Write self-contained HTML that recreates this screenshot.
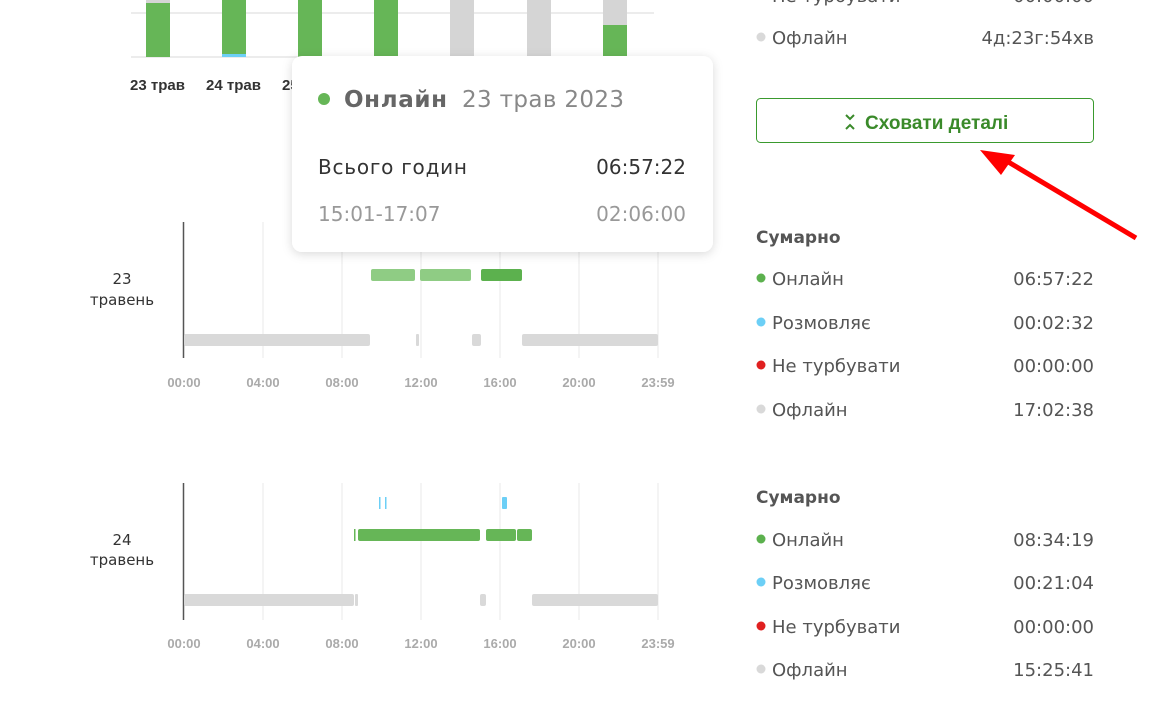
<!DOCTYPE html>
<html><head><meta charset="utf-8"><style>
body{margin:0;background:#fff;width:1162px;height:719px;overflow:hidden;font-family:"Liberation Sans","DejaVu Sans",sans-serif}
</style></head><body>
<svg width="1162" height="719" xmlns="http://www.w3.org/2000/svg" style="position:absolute;left:0;top:0">
<defs><filter id="sh" x="-10%" y="-10%" width="120%" height="130%"><feDropShadow dx="0" dy="2" stdDeviation="5" flood-color="#000" flood-opacity="0.15"/></filter></defs>
<line x1="131" y1="13" x2="654" y2="13" stroke="#e6e6e6" stroke-width="1.5"/>
<line x1="131" y1="57" x2="654" y2="57" stroke="#e6e6e6" stroke-width="1.5"/>
<rect x="146" y="0" width="24" height="3" fill="#d5d5d5"/><rect x="146" y="3" width="24" height="54" fill="#66b657"/>
<rect x="222" y="0" width="24" height="54" fill="#66b657"/><rect x="222" y="54" width="24" height="3" fill="#6ccff6"/>
<rect x="298" y="0" width="24" height="57" fill="#66b657"/>
<rect x="374" y="0" width="24" height="57" fill="#66b657"/>
<rect x="450" y="0" width="24" height="57" fill="#d5d5d5"/>
<rect x="527" y="0" width="24" height="57" fill="#d5d5d5"/>
<rect x="603" y="0" width="24" height="25" fill="#d5d5d5"/><rect x="603" y="25" width="24" height="32" fill="#66b657"/>
<g font-weight="bold" font-size="15" fill="#333"><text x="130" y="90">23 трав</text><text x="206" y="90">24 трав</text><text x="282" y="90">25 трав</text></g>

<g stroke="#e8e8e8" stroke-width="1"><line x1="263" y1="222" x2="263" y2="358"/><line x1="342" y1="222" x2="342" y2="358"/><line x1="421" y1="222" x2="421" y2="358"/><line x1="500" y1="222" x2="500" y2="358"/><line x1="579" y1="222" x2="579" y2="358"/><line x1="658" y1="222" x2="658" y2="358"/></g>
<line x1="183.5" y1="222" x2="183.5" y2="358" stroke="#555" stroke-width="1.5"/>
<rect x="371" y="269" width="44" height="12" rx="2" fill="#8fcc84"/>
<rect x="420" y="269" width="51" height="12" rx="2" fill="#8fcc84"/>
<rect x="481" y="269" width="41" height="12" rx="2" fill="#5cb14e"/>
<rect x="184" y="334" width="186" height="12" rx="2" fill="#d9d9d9"/>
<rect x="416" y="334" width="3" height="12" rx="1" fill="#d9d9d9"/>
<rect x="472" y="334" width="9" height="12" rx="2" fill="#d9d9d9"/>
<rect x="522" y="334" width="136" height="12" rx="2" fill="#d9d9d9"/>
<g font-size="13" font-weight="bold" fill="#aaa" text-anchor="middle"><text x="184" y="387">00:00</text><text x="263" y="387">04:00</text><text x="342" y="387">08:00</text><text x="421" y="387">12:00</text><text x="500" y="387">16:00</text><text x="579" y="387">20:00</text><text x="658" y="387">23:59</text></g>
<g font-size="15" fill="#333" text-anchor="middle" font-family="DejaVu Sans, sans-serif"><text x="122" y="284">23</text><text x="122" y="305">травень</text></g>

<g stroke="#e8e8e8" stroke-width="1"><line x1="263" y1="483" x2="263" y2="620"/><line x1="342" y1="483" x2="342" y2="620"/><line x1="421" y1="483" x2="421" y2="620"/><line x1="500" y1="483" x2="500" y2="620"/><line x1="579" y1="483" x2="579" y2="620"/><line x1="658" y1="483" x2="658" y2="620"/></g>
<line x1="183.5" y1="483" x2="183.5" y2="620" stroke="#555" stroke-width="1.5"/>
<rect x="379" y="497" width="1.5" height="12" fill="#6ccff6"/><rect x="385" y="497" width="1.5" height="12" fill="#6ccff6"/>
<rect x="502" y="497" width="5" height="12" rx="1" fill="#6ccff6"/>
<rect x="354" y="529" width="1.5" height="12" fill="#66b657"/>
<rect x="358" y="529" width="122" height="12" rx="2" fill="#66b657"/>
<rect x="486" y="529" width="30" height="12" rx="2" fill="#66b657"/>
<rect x="517" y="529" width="15" height="12" rx="2" fill="#66b657"/>
<rect x="184" y="594" width="170" height="12" rx="2" fill="#d9d9d9"/>
<rect x="355" y="594" width="3" height="12" rx="1" fill="#d9d9d9"/>
<rect x="480" y="594" width="6" height="12" rx="2" fill="#d9d9d9"/>
<rect x="532" y="594" width="126" height="12" rx="2" fill="#d9d9d9"/>
<g font-size="13" font-weight="bold" fill="#aaa" text-anchor="middle"><text x="184" y="648">00:00</text><text x="263" y="648">04:00</text><text x="342" y="648">08:00</text><text x="421" y="648">12:00</text><text x="500" y="648">16:00</text><text x="579" y="648">20:00</text><text x="658" y="648">23:59</text></g>
<g font-size="15" fill="#333" text-anchor="middle" font-family="DejaVu Sans, sans-serif"><text x="122" y="545">24</text><text x="122" y="565">травень</text></g>

<rect x="292" y="56" width="421" height="196" rx="10" fill="#fff" filter="url(#sh)"/>
<circle cx="324" cy="99" r="6" fill="#66b657"/>
<g font-family="DejaVu Sans, sans-serif">
<text x="344" y="107" font-size="23" font-weight="bold" fill="#666" textLength="103">Онлайн</text>
<text x="462" y="107" font-size="23" fill="#888" textLength="162">23 трав 2023</text>
<text x="318" y="174" font-size="20" fill="#333" textLength="149">Всього годин</text>
<text x="686" y="174" font-size="20" fill="#333" text-anchor="end">06:57:22</text>
<text x="318" y="221" font-size="20" fill="#999">15:01-17:07</text>
<text x="686" y="221" font-size="20" fill="#999" text-anchor="end">02:06:00</text>
</g>

<g font-size="18" fill="#555" font-family="DejaVu Sans, sans-serif">
<text x="772" y="2">Не турбувати</text><text x="1094" y="2" text-anchor="end">00:00:00</text>
<circle cx="761" cy="37" r="4.5" fill="#d9d9d9"/><text x="772" y="44">Офлайн</text><text x="1094" y="44" text-anchor="end">4д:23г:54хв</text>
</g>
<rect x="756.5" y="98.5" width="337" height="44" rx="4" fill="#fff" stroke="#3a9a2e"/>
<path d="M846 115 l4 4 l4 -4 M846 129 l4 -4 l4 4" stroke="#3a8a2a" stroke-width="2" fill="none"/>
<text x="865" y="129" font-size="19" font-weight="bold" fill="#3a8a2a">Сховати деталі</text>
<line x1="1136" y1="238" x2="1005" y2="160" stroke="#f00" stroke-width="5"/>
<polygon points="980,150 1015,155 1001,175" fill="#f00"/>

<g font-size="18" fill="#555" font-family="DejaVu Sans, sans-serif">
<text x="756" y="243" font-weight="bold" font-size="17">Сумарно</text>
<circle cx="761" cy="278" r="4.5" fill="#5cb14e"/><text x="772" y="285">Онлайн</text><text x="1094" y="285" text-anchor="end">06:57:22</text>
<circle cx="761" cy="322" r="4.5" fill="#6ccff6"/><text x="772" y="329">Розмовляє</text><text x="1094" y="329" text-anchor="end">00:02:32</text>
<circle cx="761" cy="365" r="4.5" fill="#e02020"/><text x="772" y="372">Не турбувати</text><text x="1094" y="372" text-anchor="end">00:00:00</text>
<circle cx="761" cy="409" r="4.5" fill="#d9d9d9"/><text x="772" y="416">Офлайн</text><text x="1094" y="416" text-anchor="end">17:02:38</text>

<text x="756" y="503" font-weight="bold" font-size="17">Сумарно</text>
<circle cx="761" cy="539" r="4.5" fill="#5cb14e"/><text x="772" y="546">Онлайн</text><text x="1094" y="546" text-anchor="end">08:34:19</text>
<circle cx="761" cy="582" r="4.5" fill="#6ccff6"/><text x="772" y="589">Розмовляє</text><text x="1094" y="589" text-anchor="end">00:21:04</text>
<circle cx="761" cy="626" r="4.5" fill="#e02020"/><text x="772" y="633">Не турбувати</text><text x="1094" y="633" text-anchor="end">00:00:00</text>
<circle cx="761" cy="669" r="4.5" fill="#d9d9d9"/><text x="772" y="676">Офлайн</text><text x="1094" y="676" text-anchor="end">15:25:41</text>
</g>
</svg>
</body></html>
